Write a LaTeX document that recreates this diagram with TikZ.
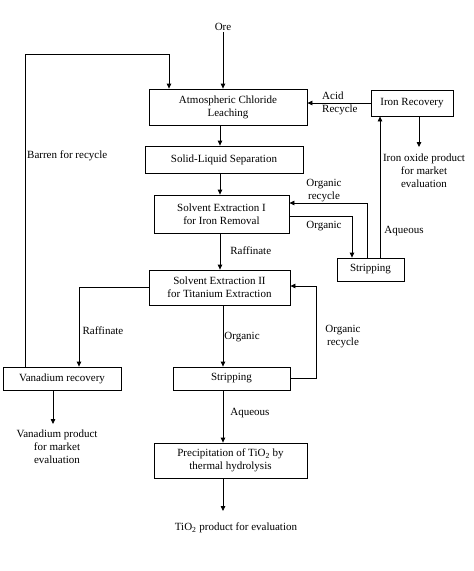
\documentclass[tikz,border=0pt]{standalone}
\usepackage{fontspec}
\setmainfont{Liberation Serif}
\usetikzlibrary{arrows.meta}

\begin{document}
\begin{tikzpicture}[x=1pt, y=-1pt,
    box/.style={draw, line width=0.8pt, align=center, inner sep=0pt},
    arr/.style={line width=0.8pt, -{Triangle[length=5pt, width=4.5pt]}},
    lbl/.style={align=center, inner sep=1pt},
    every node/.append style={font=\fontsize{11}{13}\selectfont}]
    \useasboundingbox (0,0) rectangle (474,571);

    % Process boxes
    \node[box, minimum width=158pt, minimum height=36pt] (leach) at (228,107) {Atmospheric Chloride\\Leaching};
    \node[box, minimum width=82pt, minimum height=26pt] (iron) at (412,103) {Iron Recovery};
    \node[box, minimum width=158pt, minimum height=27pt] (sls) at (224,159.5) {Solid-Liquid Separation};
    \node[box, minimum width=135pt, minimum height=38pt] (se1) at (221.5,214) {Solvent Extraction I\\for Iron Removal};
    \node[box, minimum width=67pt, minimum height=23pt] (strip1) at (370.5,269.5) {Stripping};
    \node[box, minimum width=141pt, minimum height=35pt] (se2) at (219.5,287.5) {Solvent Extraction II\\for Titanium Extraction};
    \node[box, minimum width=118pt, minimum height=23pt] (van) at (62,378.5) {Vanadium recovery};
    \node[box, minimum width=117pt, minimum height=23pt] (strip2) at (231.5,378.5) {Stripping};
    \node[box, minimum width=153pt, minimum height=35pt] (precip) at (230.5,460.5) {Precipitation of TiO\textsubscript{2} by\\thermal hydrolysis};

    % Feed and products
    \node[lbl] (ore) at (223,27) {Ore};
    \node[lbl] (ironox) at (424,171) {Iron oxide product\\for market\\evaluation};
    \node[lbl] (vanprod) at (57,447) {Vanadium product\\for market\\evaluation};
    \node[lbl] (tioprod) at (236,528) {TiO\textsubscript{2} product for evaluation};
    \coordinate (ironoxtip) at (419,147);
    \coordinate (vantip) at (53,424);
    \coordinate (tiotip) at (223,511);

    % Main line
    \draw[arr] (ore) -- (ore |- leach.north);
    \draw[arr] (220,0 |- leach.south) -- (220,0 |- sls.north);
    \draw[arr] (220,0 |- sls.south) -- (220,0 |- se1.north);
    \draw[arr] (220,0 |- se1.south) -- (220,0 |- se2.north) node[lbl, pos=0.48, anchor=west, xshift=9pt] (raf1) {Raffinate};
    \draw[arr] (223,0 |- se2.south) -- (223,0 |- strip2.north) node[lbl, pos=0.52, anchor=west, xshift=0pt] (org2) {Organic};
    \draw[arr] (223,0 |- strip2.south) -- (223,0 |- precip.north) node[lbl, pos=0.43, anchor=west, xshift=6pt] (aq2) {Aqueous};
    \draw[arr] (223,0 |- precip.south) -- (tiotip);

    % Iron circuit
    \draw[arr] (iron.west) -- (leach.east |- iron.west);
    \node[align=left, inner sep=0pt, anchor=west] (acid) at (322,103.5) {Acid\\Recycle};
    \draw[arr] (ironoxtip |- iron.south) -- (ironoxtip);
    \draw[arr] (se1.east |- 0,216) -- (352,216) -- (352,0 |- strip1.north);
    \node[lbl] (org1) at (324,226) {Organic};
    \draw[arr] (367,0 |- strip1.north) -- (367,203) -- (se1.east |- 0,203);
    \node[lbl] (orgrec1) at (324,190.5) {Organic\\recycle};
    \draw[arr] (380,0 |- strip1.north) -- (380,0 |- iron.south);
    \node[lbl] (aq1) at (404,231) {Aqueous};

    % Titanium and vanadium circuit
    \draw[arr] (strip2.east) -- (316,0 |- strip2.east) -- (316,286) -- (se2.east |- 0,286);
    \node[lbl] (orgrec2) at (343,337) {Organic\\recycle};
    \draw[arr] (se2.west |- 0,287) -- (79,287) -- (79,0 |- van.north);
    \node[lbl] (raf2) at (103,331) {Raffinate};
    \draw[arr] (vantip |- van.south) -- (vantip);

    % Barren recycle
    \draw[arr] (25,0 |- van.north) -- (25,54) -- (169,54) -- (169,0 |- leach.north);
    \node[inner sep=0pt, anchor=west] (barren) at (27,156) {Barren for recycle};
\end{tikzpicture}
\end{document}
